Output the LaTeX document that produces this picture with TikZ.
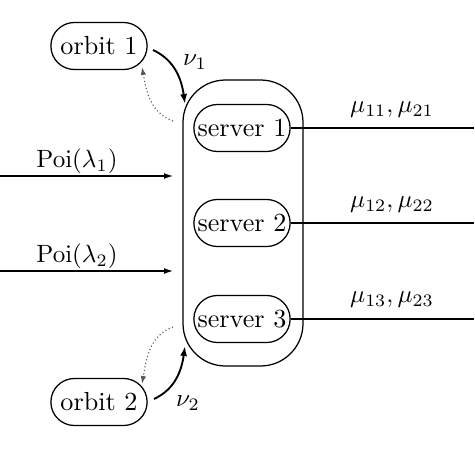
\documentclass[tikz,border=0pt]{standalone}
\usetikzlibrary{arrows.meta}
\begin{document}
\begin{tikzpicture}[x=0.4pt,y=-0.4pt,
  every node/.style={font=\fontsize{10.45}{12.5}\selectfont},
  pill/.style={draw,line width=0.5pt,rounded corners=9.4pt,minimum width=38.5pt,minimum height=18.8pt,inner sep=0pt},
  pool/.style={draw,line width=0.5pt,rounded corners=17pt,minimum width=48pt,minimum height=114.4pt,inner sep=0pt},
  flow/.style={line width=0.5pt,-{Latex[length=3.6pt,width=2.4pt]}},
  orb/.style={line width=0.75pt,-{Latex[length=4pt,width=2.8pt]}},
  back/.style={densely dotted,gray!70!black,line width=0.45pt,-{Latex[length=3.2pt,width=2.2pt]}},
  lab/.style={inner sep=0pt}]
\useasboundingbox (0,0) rectangle (474,474);
\node[pool] (pool) at (243,223) {};
\node[pill] (s1) at (242,128) {server 1};
\node[pill] (s2) at (242,223) {server 2};
\node[pill] (s3) at (242,319) {server 3};
\node[pill] (o1) at (99,46) {orbit 1};
\node[pill] (o2) at (99,402) {orbit 2};
% outputs
\coordinate (r1) at (474,128);
\coordinate (r2) at (474,223);
\coordinate (r3) at (474,319);
\draw[line width=0.5pt] (s1.east) -- (r1);
\draw[line width=0.5pt] (s2.east) -- (r2);
\draw[line width=0.5pt] (s3.east) -- (r3);
\node[lab] (m1) at (392,110) {$\mu_{11},\mu_{21}$};
\node[lab] (m2) at (392,205) {$\mu_{12},\mu_{22}$};
\node[lab] (m3) at (392,300) {$\mu_{13},\mu_{23}$};
% arrivals
\coordinate (a1s) at (0,176);
\coordinate (a1e) at (173,176);
\coordinate (a2s) at (0,271);
\coordinate (a2e) at (173,271);
\draw[flow] (a1s) -- (a1e);
\draw[flow] (a2s) -- (a2e);
\node[lab] (p1) at (77,161) {$\mathrm{Poi}(\lambda_1)$};
\node[lab] (p2) at (77,256) {$\mathrm{Poi}(\lambda_2)$};
% orbits
\coordinate (o1a) at (153,50);
\coordinate (o1b) at (185,104);
\coordinate (o1c) at (173,121);
\coordinate (o1d) at (142,67);
\coordinate (o2a) at (154,399);
\coordinate (o2b) at (185,346);
\coordinate (o2c) at (173,327);
\coordinate (o2d) at (142,384);
\draw[orb] (o1a) to[out=-25,in=98] (o1b);
\draw[back] (o1c) to[out=160,in=-80] (o1d);
\draw[orb] (o2a) to[out=25,in=-98] (o2b);
\draw[back] (o2c) to[out=200,in=80] (o2d);
\node[lab] (n1) at (195,62) {$\nu_1$};
\node[lab] (n2) at (188,403) {$\nu_2$};
\end{tikzpicture}
\end{document}
